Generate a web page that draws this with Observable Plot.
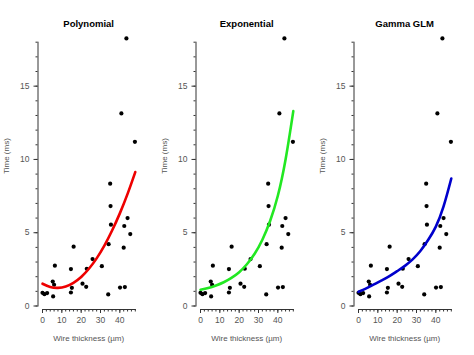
<!DOCTYPE html>
<html>
<head>
<meta charset="utf-8">
<script src="https://cdn.jsdelivr.net/npm/d3@7"></script>
<script src="https://cdn.jsdelivr.net/npm/@observablehq/plot@0.6"></script>
<style>
  html, body { margin: 0; padding: 0; background: white; }
  #chart { display: flex; flex-direction: row; width: 474px; height: 355px; }
  #chart svg { display: block; }
</style>
</head>
<body>
<div id="chart"></div>
<script>
// Observed data: wire thickness (µm) vs time (ms)
const thickness = [43.4, 40.8, 47.8, 35.0, 35.2, 35.4, 44.0, 42.3, 45.4, 34.2,
                   42.0, 16.1, 25.9, 30.7, 22.9, 14.7, 6.4, 5.3, 6.0, 20.7,
                   22.6, 15.2, 40.1, 42.6, 14.7, 34.0, 5.5, 0.0, 1.0, 2.4];
const time = [18.26, 13.14, 11.2, 8.35, 6.82, 5.55, 6.0, 5.46, 4.91, 4.22,
              3.98, 4.05, 3.2, 2.72, 2.54, 2.52, 2.75, 1.67, 1.45, 1.52,
              1.31, 1.24, 1.26, 1.29, 0.92, 0.79, 0.65, 0.90, 0.81, 0.88];

// Fitted curves at these thickness values
const curveX = [0, 4, 8, 12, 16, 20, 24, 28, 32, 36, 40, 44, 48];
const polyY  = [1.52, 1.30, 1.24, 1.33, 1.58, 1.98, 2.54, 3.25, 4.12, 5.15, 6.32, 7.65, 9.14];
const expY   = [1.11, 1.23, 1.40, 1.62, 1.92, 2.31, 2.85, 3.56, 4.52, 5.80, 7.52, 10.0, 13.3];
const gammaY = [0.97, 1.20, 1.47, 1.75, 2.04, 2.38, 2.74, 3.18, 3.75, 4.50, 5.42, 6.80, 8.70];

const titles = ["Polynomial", "Exponential", "Gamma GLM"];
const colors = ["#ee0000", "#22e822", "#0000cc"];
const fits = [polyY, expY, gammaY];

const yMajor = [0, 5, 10, 15];
const xMajor = [0, 10, 20, 30, 40];
const xLabel = "Wire thickness (µm)";
const yLabel = "Time (ms)";

const points = thickness.map((t, i) => ({t, ms: time[i]}));
const font = "'Liberation Sans', Arial, Helvetica, sans-serif";

function panel(k) {
  const fit = curveX.map((t, i) => ({t, ms: fits[k][i]}));
  return Plot.plot({
    width: 158,
    height: 355,
    marginLeft: 37.5,
    marginRight: 23.2,
    marginTop: 41.7,
    marginBottom: 46,
    insetLeft: 4.5,
    insetBottom: 3.5,
    x: {domain: [0, 48], label: null},
    y: {domain: [0, 18], label: null},
    style: {fontFamily: font, fontSize: "8.5px", color: "#333", background: "white", overflow: "visible"},
    marks: [
      Plot.frame({anchor: "left", insetBottom: 3.5, stroke: "#333"}),
      Plot.frame({anchor: "bottom", insetLeft: 4.5, stroke: "#333"}),
      Plot.axisY({ticks: d3.range(0, 19, 1), tickSize: 2, tickFormat: () => "", label: null}),
      Plot.axisY({ticks: yMajor, tickSize: 4, tickPadding: 4.5, label: null, fill: "#555"}),
      Plot.axisX({ticks: d3.range(0, 49, 2), tickSize: 2.5, tickFormat: () => "", label: null}),
      Plot.axisX({ticks: xMajor, tickSize: 4, tickPadding: 3.5, label: null, fill: "#555"}),
      Plot.dot(points, {x: "t", y: "ms", r: 2.1, fill: "black", stroke: null}),
      Plot.line(fit, {x: "t", y: "ms", stroke: colors[k], strokeWidth: 2.6, curve: "natural"}),
      Plot.text([titles[k]], {frameAnchor: "top", dy: -21.7, dx: 2, fontWeight: "bold", fontSize: 9.5, fill: "black"}),
      Plot.text([xLabel], {frameAnchor: "bottom", dy: 31, dx: 2, fontSize: 8, fill: "#555"}),
      Plot.text([yLabel], {frameAnchor: "left", dx: -31.5, dy: -2, rotate: -90, fontSize: 8, fill: "#555"})
    ]
  });
}

const chart = document.getElementById("chart");
for (let k = 0; k < 3; k++) chart.appendChild(panel(k));
</script>
</body>
</html>
